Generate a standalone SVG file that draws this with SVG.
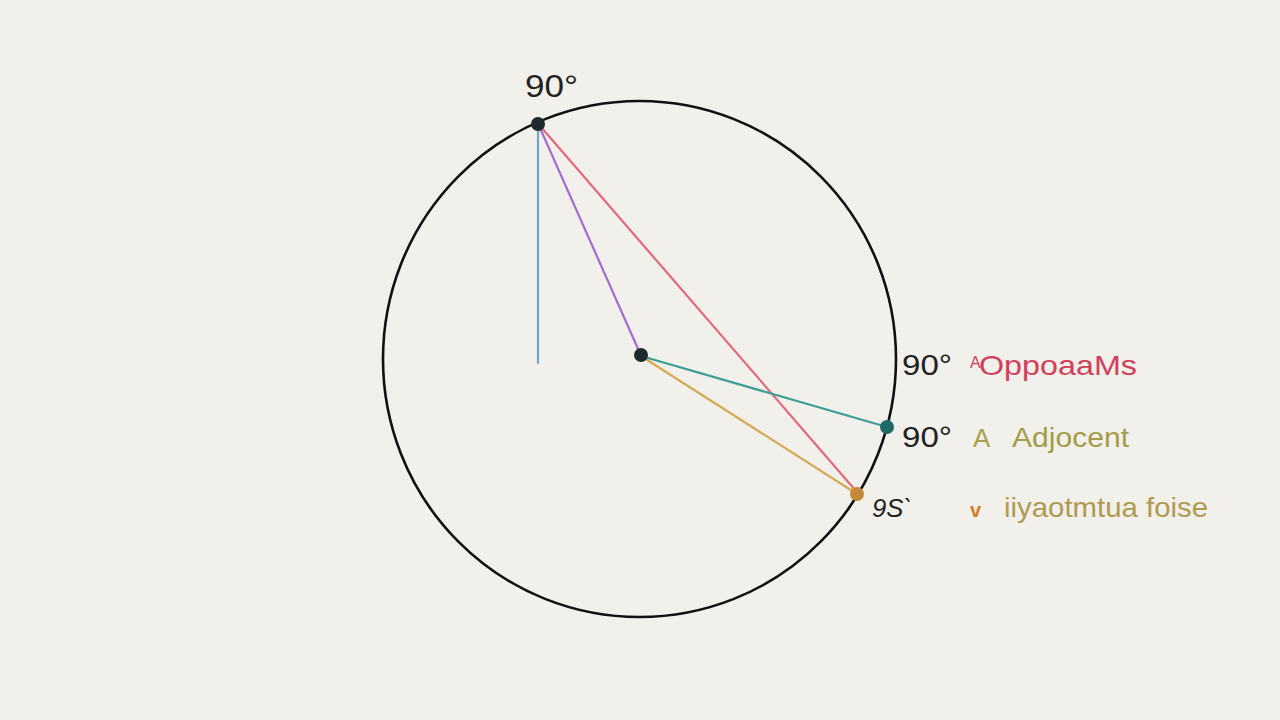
<svg xmlns="http://www.w3.org/2000/svg" width="1280" height="720" viewBox="0 0 1280 720">
<style>
.lbl{font-family:"Liberation Sans",Arial,sans-serif;fill:#222;}
.tx{font-family:"Liberation Sans",Arial,sans-serif;}
.ln{stroke-width:2.2;fill:none;stroke-linecap:round;}
.dot{fill:#1e2b2e;}
</style>
<rect width="1280" height="720" fill="#f2f0eb"/>
<g id="circle"><ellipse cx="639.5" cy="359" rx="256.5" ry="258" fill="none" stroke="#111" stroke-width="2.6"/></g>
<g id="connectors">
<line class="ln" x1="538" y1="126" x2="538" y2="363" stroke="#6aaac8"/>
<line class="ln" x1="540" y1="128" x2="639" y2="351" stroke="#a56bd0"/>
<line class="ln" x1="541" y1="127" x2="856" y2="491" stroke="#e06a7a"/>
<line class="ln" x1="641" y1="356" x2="887" y2="427" stroke="#3e9e94"/>
<line class="ln" x1="641" y1="356" x2="857" y2="494" stroke="#d4aa55"/>
</g>
<g id="node-top"><circle class="dot" cx="538" cy="124" r="7"/><text class="lbl" x="525" y="97" font-size="31" textLength="53" lengthAdjust="spacingAndGlyphs">90°</text></g>
<g id="node-center"><circle class="dot" cx="641" cy="355" r="7"/></g>
<g id="node-right"><circle cx="887" cy="427" r="7" fill="#1f6a68"/><text class="lbl" x="902" y="447" font-size="29" textLength="50" lengthAdjust="spacingAndGlyphs">90°</text>
<text class="tx" x="973" y="447" font-size="26" fill="#a7a24a">A</text>
<text class="tx" x="1012" y="447" font-size="28" fill="#a39c48" textLength="117" lengthAdjust="spacingAndGlyphs">Adjocent</text></g>
<g id="node-bottom"><circle cx="857" cy="494" r="7" fill="#c48a3a"/><text class="lbl" x="872" y="517" font-size="26" font-style="italic" textLength="40" lengthAdjust="spacingAndGlyphs">9S`</text>
<text class="tx" x="970" y="517" font-size="20" font-weight="bold" fill="#d07a28">v</text>
<text class="tx" x="1004" y="517" font-size="28" fill="#b09a50" textLength="204" lengthAdjust="spacingAndGlyphs">iiyaotmtua foise</text></g>
<g id="label-opp"><text class="lbl" x="902" y="375" font-size="29" textLength="50" lengthAdjust="spacingAndGlyphs">90°</text>
<text class="tx" x="970" y="368" font-size="16" fill="#d0405a">A</text>
<text class="tx" x="979" y="375" font-size="28" fill="#d0405a" textLength="158" lengthAdjust="spacingAndGlyphs">OppoaaMs</text></g>
</svg>
